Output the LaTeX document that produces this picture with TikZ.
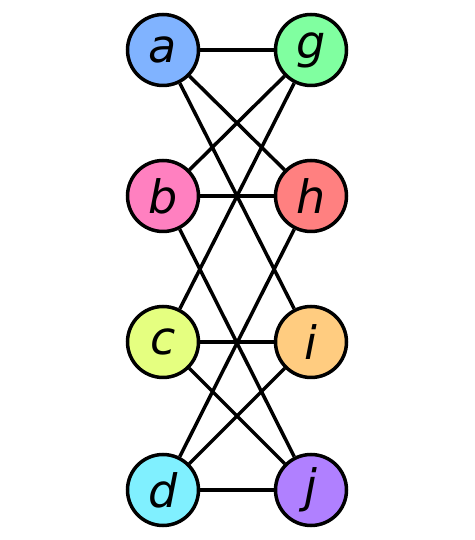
\documentclass[tikz,border=0pt]{standalone}
\usepackage{fontspec}
\newfontfamily\lblfont{DejaVu Sans}
\definecolor{ca}{RGB}{128,179,255}
\definecolor{cg}{RGB}{128,255,160}
\definecolor{cb}{RGB}{255,128,192}
\definecolor{ch}{RGB}{255,128,128}
\definecolor{cc}{RGB}{229,255,128}
\definecolor{ci}{RGB}{255,204,128}
\definecolor{cd}{RGB}{128,240,255}
\definecolor{cj}{RGB}{176,128,255}
\begin{document}
\begin{tikzpicture}[x=1pt,y=1pt,
  vert/.style={circle,draw=black,line width=3.5pt,minimum size=71pt,inner sep=0pt,
    font=\lblfont\itshape\fontsize{46}{46}\selectfont},
  edge/.style={line width=3.5pt,black}]
\useasboundingbox[fill=white] (0,0) rectangle (474,540);
\node[vert,fill=ca] (a) at (163,490) {a};
\node[vert,fill=cg] (g) at (311,490) {g};
\node[vert,fill=cb] (b) at (163,344) {b};
\node[vert,fill=ch] (h) at (311,344) {h};
\node[vert,fill=cc] (c) at (163,198) {c};
\node[vert,fill=ci] (i) at (311,198) {i};
\node[vert,fill=cd] (d) at (163,50) {d};
\node[vert,fill=cj] (j) at (311,50) {j};
\path[edge] (a) edge (g) edge (h) edge (i);
\path[edge] (b) edge (g) edge (h) edge (j);
\path[edge] (c) edge (g) edge (i) edge (j);
\path[edge] (d) edge (h) edge (i) edge (j);
\end{tikzpicture}
\end{document}
